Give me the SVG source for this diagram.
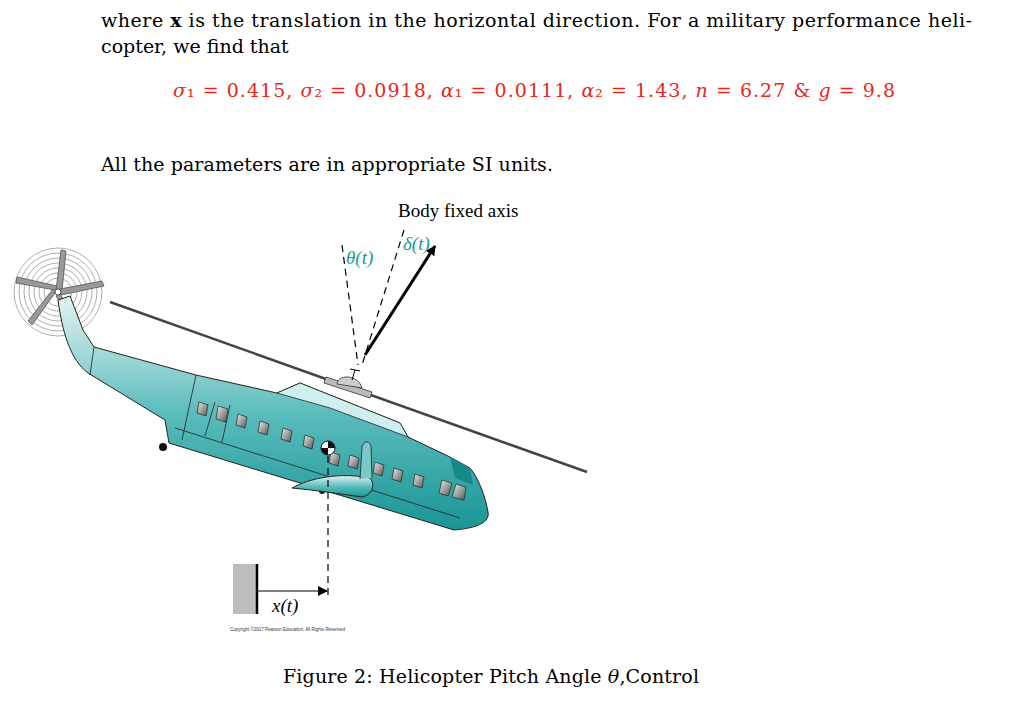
<svg xmlns="http://www.w3.org/2000/svg" width="1024" height="710" viewBox="0 0 1024 710">
<style>
.t{font-family:"DejaVu Serif",serif;font-size:19px;fill:#000}
.r{font-family:"DejaVu Serif",serif;font-size:19px;fill:#e8261c}
.tl{font-family:"Liberation Serif",serif;font-size:19px;fill:#1a9a95;font-style:italic}
.d{stroke:#000;stroke-width:1.2;stroke-dasharray:7,5;fill:none}
.k{stroke:#222;stroke-width:0.8}
.w{fill:url(#wg);stroke:#222;stroke-width:0.7}
</style>
<defs>
<linearGradient id="bg" x1="0" y1="0" x2="0" y2="1"><stop offset="0" stop-color="#e4f4f4"/><stop offset="0.5" stop-color="#5bbcbc"/><stop offset="1" stop-color="#1a9595"/></linearGradient>
<linearGradient id="wg" x1="0" y1="0" x2="1" y2="1"><stop offset="0" stop-color="#eee"/><stop offset="1" stop-color="#555"/></linearGradient>
<marker id="ah" markerWidth="10" markerHeight="10" refX="9" refY="5" orient="auto" markerUnits="userSpaceOnUse" viewBox="0 0 10 10"><path d="M0,0L10,5L0,10z" fill="#000"/></marker>
</defs>
<rect width="1024" height="710" fill="#fff"/>
<text class="t" x="101" y="27" textLength="871" lengthAdjust="spacing">where <tspan font-weight="bold">x</tspan> is the translation in the horizontal direction.  For a military performance heli-</text>
<text class="t" x="101" y="53">copter, we find that</text>
<text class="r" x="173" y="97" textLength="722" lengthAdjust="spacing"><tspan font-style="italic">σ</tspan>₁ = 0.415,   <tspan font-style="italic">σ</tspan>₂ = 0.0918,   <tspan font-style="italic">α</tspan>₁ = 0.0111,   <tspan font-style="italic">α</tspan>₂ = 1.43,   <tspan font-style="italic">n</tspan> = 6.27  &amp;  <tspan font-style="italic">g</tspan> = 9.8</text>
<text class="t" x="101" y="171" textLength="452" lengthAdjust="spacing">All the parameters are in appropriate SI units.</text>
<text x="398" y="217" font-family="Liberation Serif,serif" font-size="19">Body fixed axis</text>
<g id="tailrotor" fill="none" stroke="#999" stroke-width="0.8">
<circle cx="58" cy="292" r="44"/><circle cx="58" cy="292" r="39"/><circle cx="58" cy="292" r="34"/><circle cx="58" cy="292" r="29"/><circle cx="58" cy="292" r="24"/><circle cx="58" cy="292" r="19"/><circle cx="58" cy="292" r="14"/>
<g fill="#999" stroke="#555">
<polygon points="56,290 61,250 66,251 62,291"/>
<polygon points="60,289 102,281 104,286 61,295"/>
<polygon points="60,294 83,330 78,333 56,296"/>
<polygon points="55,293 32,325 28,321 53,289"/>
<polygon points="55,290 16,283 17,277 57,286"/>
</g>
<circle cx="58" cy="292" r="3" fill="#fff" stroke="#333"/>
</g>
<g id="body">
<path d="M58,300 C62,330 70,360 88,373 L165,420 L169,443 L454,530 C478,528 490,522 488,512 C486,500 480,480 470,468 L450,457 L408,437 L400,423 L300,383 L277,393 L196,375 L94,347 L83,330 L70,296 Z" fill="url(#bg)" stroke="#222" stroke-width="1"/>
<path d="M277,393 L300,383 L400,423 L408,437 L330,408 Z" fill="#cfeeee" stroke="#222" stroke-width="0.8"/>
<path d="M450,457 L470,468 L473,485 L455,478 Z" fill="#148a86"/>
<line class="k" x1="94" y1="347" x2="90" y2="375"/>
<line class="k" x1="196" y1="375" x2="182" y2="440"/>
<line class="k" x1="175" y1="428" x2="460" y2="518"/>
<line class="k" x1="215" y1="402" x2="205" y2="436"/>
<line class="k" x1="230" y1="405" x2="222" y2="442"/>
<circle cx="163" cy="447" r="4" fill="#111"/>
<circle cx="322" cy="491" r="3" fill="#111"/>
<g>
<polygon class="w" points="199,402 208,405 206,416 197,413"/>
<polygon class="w" points="218,406 228,409 226,422 216,419"/>
<polygon class="w" points="238,414 247,417 245,428 236,425"/>
<polygon class="w" points="260,421 269,424 267,435 258,432"/>
<polygon class="w" points="283,428 292,431 290,442 281,439"/>
<polygon class="w" points="305,435 314,438 312,449 303,446"/>
<polygon class="w" points="331,452 340,455 338,466 329,463"/>
<polygon class="w" points="350,455 359,458 357,469 348,466"/>
<polygon class="w" points="375,462 384,465 382,476 373,473"/>
<polygon class="w" points="394,468 403,471 401,482 392,479"/>
<polygon class="w" points="415,474 424,477 422,488 413,485"/>
<polygon class="w" points="442,480 452,483 448,496 439,493"/>
<polygon class="w" points="456,484 466,487 464,500 452,497"/>
</g>
<path d="M292,488 C310,478 340,472 370,478 C376,485 372,495 362,497 C340,494 315,490 292,488 Z" fill="url(#bg)" stroke="#222"/>
<path d="M360,479 L362,447 C364,440 370,440 371,447 L372,478" fill="#7cc9c9" stroke="#222" stroke-width="0.8"/>
<circle cx="328" cy="448" r="7" fill="#fff" stroke="#111"/>
<path d="M328,448 L328,441 A7,7 0 0 1 335,448 Z M328,448 L328,455 A7,7 0 0 1 321,448 Z" fill="#111"/>
</g>
<g id="mainrotor">
<line x1="110" y1="302" x2="587" y2="472" stroke="#444" stroke-width="2.5"/>
<polygon points="326,377 372,392 370,398 324,383" fill="#bbb" stroke="#333" stroke-width="0.8"/>
<path d="M337,384 C338,374 358,374 362,388 Z" fill="#ccc" stroke="#333" stroke-width="0.8"/>
<line x1="355" y1="370" x2="352" y2="380" stroke="#000"/>
<line x1="350" y1="369" x2="360" y2="371" stroke="#000"/>
</g>
<g id="connectors">
<line class="d" x1="342" y1="245" x2="358" y2="365"/>
<line class="d" x1="404" y1="230" x2="362" y2="365"/>
<line x1="365" y1="355" x2="435" y2="246" stroke="#000" stroke-width="3" marker-end="url(#ah)"/>
<line class="d" x1="328" y1="456" x2="328" y2="600"/>
<line x1="258" y1="591" x2="327" y2="591" stroke="#000" stroke-width="1.2" marker-end="url(#ah)"/>
</g>
<rect x="233" y="564" width="24" height="50" fill="#bbbdbf"/>
<line x1="257" y1="564" x2="257" y2="614" stroke="#000" stroke-width="2.5"/>
<text class="tl" x="346" y="264">θ(t)</text>
<text class="tl" x="403" y="250" font-style="normal">δ(<tspan font-style="italic">t</tspan>)</text>
<text x="272" y="612" font-family="Liberation Serif,serif" font-size="19" font-style="italic">x(t)</text>
<text x="230" y="631" font-family="Liberation Sans,sans-serif" font-size="4.5" fill="#333">Copyright ©2017 Pearson Education, All Rights Reserved</text>
<text class="t" x="283" y="683" textLength="416" lengthAdjust="spacing">Figure 2: Helicopter Pitch Angle <tspan font-style="italic">θ</tspan>,Control</text>
</svg>
